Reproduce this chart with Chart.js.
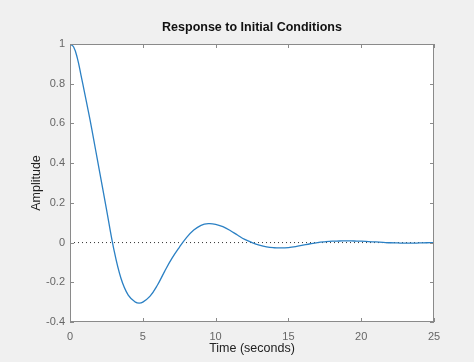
<!DOCTYPE html>
<html>
<head>
<meta charset="utf-8">
<script src="https://cdn.jsdelivr.net/npm/chart.js@4"></script>
<style>
  html, body { margin: 0; padding: 0; background: #f0f0f0; }
  #wrap { width: 474px; height: 362px; }
</style>
</head>
<body>
<div id="wrap"><canvas id="respChart" width="474" height="362"></canvas></div>
<script>
// values
const times = [0, 0.25, 0.5, 0.75, 1, 1.25, 1.5, 1.75, 2, 2.5, 3, 3.5, 4, 4.5, 4.75, 5, 5.5, 6, 6.5, 7, 7.5, 8, 8.5, 9, 9.5, 10, 10.5, 11, 11.5, 12, 12.5, 13, 13.5, 14, 14.5, 15, 15.5, 16, 16.5, 17, 17.5, 18, 18.5, 19, 19.5, 20, 20.5, 21, 21.5, 22, 22.5, 23, 23.5, 24, 24.5, 25];
const amplitude = [1, 0.985, 0.93, 0.845, 0.755, 0.665, 0.57, 0.47, 0.37, 0.17, -0.03, -0.18, -0.265, -0.3, -0.305, -0.3, -0.27, -0.215, -0.145, -0.08, -0.025, 0.025, 0.063, 0.087, 0.095, 0.092, 0.08, 0.061, 0.038, 0.016, 0, -0.013, -0.022, -0.026, -0.027, -0.025, -0.02, -0.013, -0.006, 0, 0.004, 0.007, 0.008, 0.009, 0.008, 0.007, 0.005, 0.003, 0.001, -0.001, -0.002, -0.003, -0.003, -0.002, -0.001, 0];
const zeroLine = [0, 0];
const zeroTimes = [0, 25];
const xTicks = [0, 5, 10, 15, 20, 25];
const yTicks = [-0.4, -0.2, 0, 0.2, 0.4, 0.6, 0.8, 1];

const titleText = 'Response to Initial Conditions';
const xLabel = 'Time (seconds)';
const yLabel = 'Amplitude';

const axisColor = '#8a8a8a';
const labelColor = '#666666';
const tickFont = { family: 'Liberation Sans, Arial, sans-serif', size: 11 };

// white plot box, inward ticks on all four sides, titles
const matlabAxes = {
  id: 'matlabAxes',
  beforeDraw(chart) {
    const { ctx, chartArea: a } = chart;
    ctx.save();
    ctx.fillStyle = '#ffffff';
    ctx.fillRect(a.left, a.top, a.right - a.left, a.bottom - a.top);
    ctx.restore();
  },
  afterDraw(chart) {
    const { ctx, chartArea: a, scales } = chart;
    ctx.save();
    ctx.strokeStyle = axisColor;
    ctx.lineWidth = 1;
    ctx.strokeRect(a.left + 0.5, a.top + 0.5, a.right - a.left - 1, a.bottom - a.top - 1);
    ctx.beginPath();
    const len = 4;
    xTicks.forEach(v => {
      const px = Math.round(scales.x.getPixelForValue(v)) + 0.5;
      ctx.moveTo(px, a.bottom); ctx.lineTo(px, a.bottom - len);
      ctx.moveTo(px, a.top); ctx.lineTo(px, a.top + len);
    });
    yTicks.forEach(v => {
      const py = Math.round(scales.y.getPixelForValue(v)) + 0.5;
      ctx.moveTo(a.left, py); ctx.lineTo(a.left + len, py);
      ctx.moveTo(a.right, py); ctx.lineTo(a.right - len, py);
    });
    ctx.stroke();

    ctx.fillStyle = '#111111';
    ctx.textAlign = 'center';
    ctx.textBaseline = 'middle';
    ctx.font = 'bold 12.5px Liberation Sans, Arial, sans-serif';
    ctx.fillText(titleText, (a.left + a.right) / 2, 28);
    ctx.font = '12.5px Liberation Sans, Arial, sans-serif';
    ctx.fillStyle = '#222222';
    ctx.fillText(xLabel, (a.left + a.right) / 2, 349);
    ctx.translate(37, (a.top + a.bottom) / 2);
    ctx.rotate(-Math.PI / 2);
    ctx.fillText(yLabel, 0, 0);
    ctx.restore();
  }
};

const ctx = document.getElementById('respChart').getContext('2d');
new Chart(ctx, {
  type: 'line',
  data: {
    datasets: [{
      data: times.map((t, i) => ({ x: t, y: amplitude[i] })),
      borderColor: '#2b80c4',
      borderWidth: 1.3,
      pointRadius: 0,
      tension: 0.4,
      fill: false
    }, {
      data: zeroTimes.map((t, i) => ({ x: t, y: zeroLine[i] })),
      borderColor: '#333333',
      borderWidth: 1,
      borderDash: [1, 3],
      pointRadius: 0,
      fill: false
    }]
  },
  plugins: [matlabAxes],
  options: {
    responsive: false,
    animation: false,
    layout: { padding: { top: 44, right: 40, left: 0, bottom: 0 } },
    plugins: { legend: { display: false }, tooltip: { enabled: false } },
    scales: {
      x: {
        type: 'linear',
        min: 0, max: 25,
        afterFit(scale) { scale.height = 40; },
        afterBuildTicks(scale) { scale.ticks = xTicks.map(v => ({ value: v })); },
        grid: { display: false },
        border: { display: false },
        ticks: { color: labelColor, font: tickFont, padding: 0, maxRotation: 0 }
      },
      y: {
        min: -0.4, max: 1,
        afterFit(scale) { scale.width = 70; },
        afterBuildTicks(scale) { scale.ticks = yTicks.map(v => ({ value: v })); },
        grid: { display: false, drawTicks: false },
        border: { display: false },
        ticks: {
          color: labelColor, font: tickFont, padding: 5,
          callback: v => String(Math.round(v * 10) / 10)
        }
      }
    }
  }
});
</script>
</body>
</html>
